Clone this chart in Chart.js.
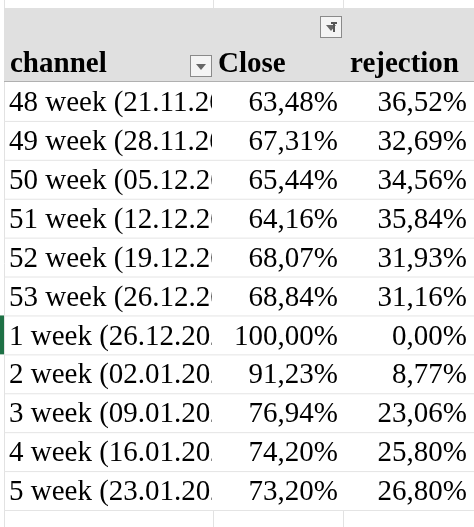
<!DOCTYPE html>
<html>
<head>
<meta charset="utf-8">
<script src="https://cdn.jsdelivr.net/npm/chart.js@4"></script>
<style>
  html, body { margin: 0; padding: 0; background: #fff; }
  #wrap { width: 474px; height: 527px; }
</style>
</head>
<body>
<div id="wrap"><canvas id="tableChart"></canvas></div>
<script>
/* ====== DATA ====== */
const headers = ["channel", "Close", "rejection"];
const channels = [
    "48 week (21.11.2022", "49 week (28.11.2022", "50 week (05.12.2022",
    "51 week (12.12.2022", "52 week (19.12.2022", "53 week (26.12.2022",
    "1 week (26.12.2022", "2 week (02.01.2023", "3 week (09.01.2023",
    "4 week (16.01.2023", "5 week (23.01.2023"
];
const closeValues = [63.48, 67.31, 65.44, 64.16, 68.07, 68.84, 100.00, 91.23, 76.94, 74.20, 73.20];
const rejectionValues = [36.52, 32.69, 34.56, 35.84, 31.93, 31.16, 0.00, 8.77, 23.06, 25.80, 26.80];

const fmt = v => v.toFixed(2).replace(".", ",") + "%";

/* ====== TABLE DRAWING PLUGIN ====== */
const colEdges = [4, 213, 343, 474];
const tablePlugin = {
    id: "tableDraw",
    afterDraw(chart) {
        const c = chart.ctx;
        const y = chart.scales.y;
        const rowH = y.getPixelForValue(1) - y.getPixelForValue(0);
        const top = y.getPixelForValue(0) - rowH / 2;
        const bottom = y.getPixelForValue(channels.length - 1) + rowH / 2;
        c.save();
        // outer sheet grid
        c.strokeStyle = "#e2e2e2";
        c.lineWidth = 1;
        [213.5, 343.5].forEach(x => {
            c.beginPath(); c.moveTo(x, 0); c.lineTo(x, 8); c.stroke();
            c.beginPath(); c.moveTo(x, bottom); c.lineTo(x, 527); c.stroke();
        });
        c.beginPath(); c.moveTo(4.5, 0); c.lineTo(4.5, 527); c.stroke();
        // header band
        c.fillStyle = "#e0e0e0";
        c.fillRect(4, 8, 470, top - 8);
        c.strokeStyle = "#b0b0b0";
        c.beginPath(); c.moveTo(4, top - 0.5); c.lineTo(474, top - 0.5); c.stroke();
        // filter icons
        const icon = (x, yy, w) => {
            c.fillStyle = "#f4f4f4"; c.fillRect(x, yy, w, w);
            c.strokeStyle = "#8a8a8a"; c.strokeRect(x + 0.5, yy + 0.5, w - 1, w - 1);
            c.fillStyle = "#666";
            c.beginPath(); c.moveTo(x + 6, yy + 9); c.lineTo(x + w - 6, yy + 9); c.lineTo(x + w / 2, yy + 15); c.fill();
        };
        icon(190, 55, 22);
        icon(320, 16, 22);
        c.fillStyle = "#555"; c.fillRect(331, 22, 6, 2); c.fillRect(333, 23, 2, 9);
        // headers
        c.fillStyle = "#000";
        c.font = "bold 29px 'Liberation Serif'";
        c.textBaseline = "alphabetic";
        c.textAlign = "left";
        c.fillText(headers[0], 10, 72);
        c.fillText(headers[1], 218, 72);
        c.textAlign = "right";
        c.fillText(headers[2], 459, 72);
        // rows
        c.font = "29px 'Liberation Serif'";
        channels.forEach((ch, i) => {
            const cy = y.getPixelForValue(i);
            c.strokeStyle = "#e4e4e4";
            c.beginPath(); c.moveTo(4, cy + rowH / 2 + 0.5); c.lineTo(474, cy + rowH / 2 + 0.5); c.stroke();
            c.fillStyle = "#000";
            c.textBaseline = "middle";
            c.save();
            c.beginPath(); c.rect(colEdges[0], cy - rowH / 2, colEdges[1] - colEdges[0] - 1, rowH); c.clip();
            c.textAlign = "left";
            c.fillText(ch, 9, cy + 2);
            c.restore();
            c.textAlign = "right";
            c.fillText(fmt(closeValues[i]), 338, cy + 2);
            c.fillText(fmt(rejectionValues[i]), 467, cy + 2);
        });
        // selected-cell marker
        c.fillStyle = "#1e7145";
        c.fillRect(0, y.getPixelForValue(6) - rowH / 2, 4, rowH);
        c.restore();
    }
};

new Chart(document.getElementById("tableChart"), {
    type: "bar",
    data: {
        labels: channels,
        datasets: [{
            label: "Close",
            data: closeValues,
            backgroundColor: "rgba(0,0,0,0)"
        }]
    },
    options: {
        indexAxis: "y",
        responsive: true,
        maintainAspectRatio: false,
        animation: false,
        layout: { padding: { top: 82, bottom: 17, left: 0, right: 0 } },
        plugins: { legend: { display: false }, tooltip: { enabled: false } },
        scales: {
            x: { display: false, min: 0, max: 100 },
            y: { display: false, offset: true }
        }
    },
    plugins: [tablePlugin]
});
</script>
</body>
</html>
